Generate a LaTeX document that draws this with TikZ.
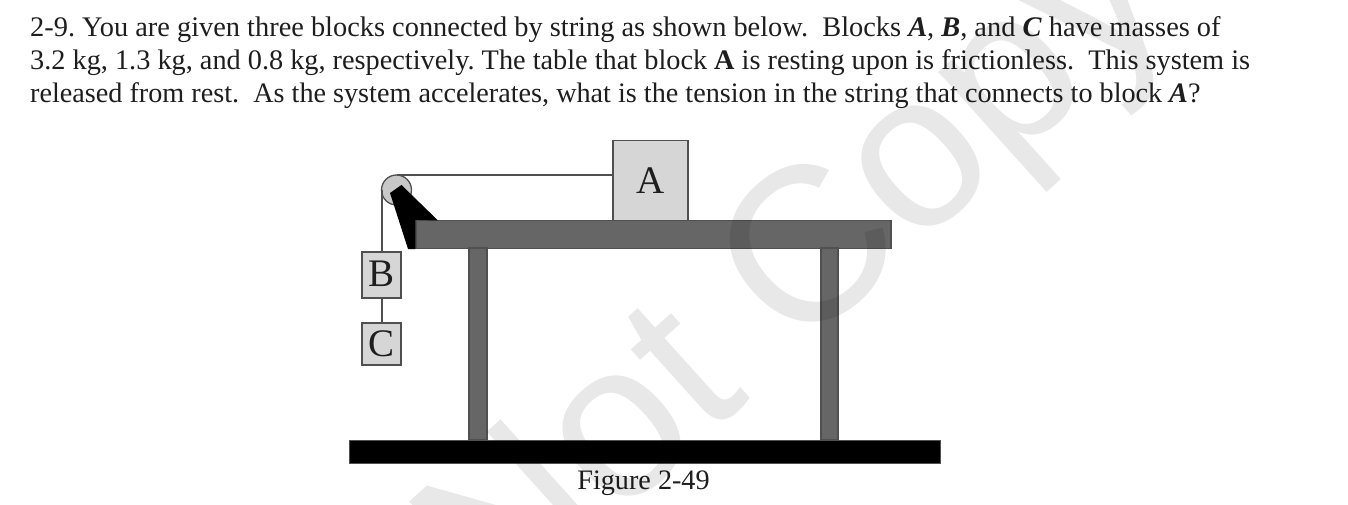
\documentclass[tikz,border=0pt]{standalone}
\usepackage{fontspec}
\setmainfont{Liberation Serif}
\newfontfamily\wmfont{Liberation Sans}
\definecolor{inkc}{HTML}{1E1E1E}
\definecolor{blockc}{HTML}{D6D6D6}
\definecolor{tablec}{HTML}{666666}
\definecolor{edgec}{HTML}{505050}
\definecolor{pulleyc}{HTML}{C8C8C8}
\frenchspacing
\tikzset{
  line/.style={anchor=base west,inner sep=0pt,text=inkc},
  blockbox/.style={draw=edgec,fill=blockc,line width=1.4pt,inner sep=0pt,text=inkc,font=\fontsize{39}{39}\selectfont},
  tablepart/.style={draw=edgec,fill=tablec,line width=1.2pt,inner sep=0pt},
  stringline/.style={draw=edgec,line width=2pt},
}
\begin{document}
\begin{tikzpicture}[x=1pt,y=-1pt]
\useasboundingbox (0,0) rectangle (1348,505);
\clip (0,0) rectangle (1348,505);
\fill[white] (0,0) rectangle (1348,505);
\coordinate (pt) at (396.5,175);
\coordinate (pl) at (381.5,190);
\node[tablepart,minimum width=475pt,minimum height=28pt] (table) at (653.5,234.5) {};
\node[tablepart,minimum width=18pt,minimum height=192pt] (legl) at (478,344) {};
\node[tablepart,minimum width=17pt,minimum height=192pt] (legr) at (829.5,344) {};
\node[draw=edgec,fill=black,line width=1pt,inner sep=0pt,minimum width=591pt,minimum height=23pt] (ground) at (644.5,451.5) {};
\node[blockbox,minimum width=75pt,minimum height=80pt] (A) at (650.5,180.5) {\raisebox{-2pt}{A}};
\node[blockbox,minimum width=39pt,minimum height=46pt] (B) at (381.5,275) {\raisebox{2pt}{B}};
\node[blockbox,minimum width=39pt,minimum height=42pt] (C) at (381.5,344) {C};
\node[circle,draw=edgec,fill=pulleyc,line width=1.3pt,inner sep=0pt,minimum size=30pt] (pulley) at (396.5,190) {};
\draw[stringline] (pt) -- (pt -| A.west);
\draw[stringline] (pl) -- (pl |- B.north);
\draw[stringline] (B.south) -- (C.north);
\fill[black] (390,193) -- (401.5,185) -- (438,220.5) -- (table.north west) -- (table.south west) -- (408,249) -- cycle;
\node[line,font=\fontsize{28.38}{33}\selectfont] (l1) at (30,36.5) {2-9. You are given three blocks connected by string as shown below.\ \ Blocks \textbf{\textit{A}}, \textbf{\textit{B}}, and \textbf{\textit{C}} have masses of};
\node[line,font=\fontsize{28.29}{33}\selectfont] (l2) at (30,69.5) {3.2 kg, 1.3 kg, and 0.8 kg, respectively. The table that block \textbf{A} is resting upon is frictionless.\ \ This system is};
\node[line,font=\fontsize{28.19}{33}\selectfont] (l3) at (30,102.5) {released from rest.\ \ As the system accelerates, what is the tension in the string that connects to block \textbf{\textit{A}}?};
\node[line,anchor=base,font=\fontsize{28.2}{33}\selectfont] (cap) at (643.5,489.5) {Figure 2-49};
\node[rotate=42,anchor=base,inner sep=0pt,text=black,opacity=.09,font=\wmfont\fontsize{220}{220}\selectfont] (wm) at (838,320) {Not Copy};
\end{tikzpicture}
\end{document}
